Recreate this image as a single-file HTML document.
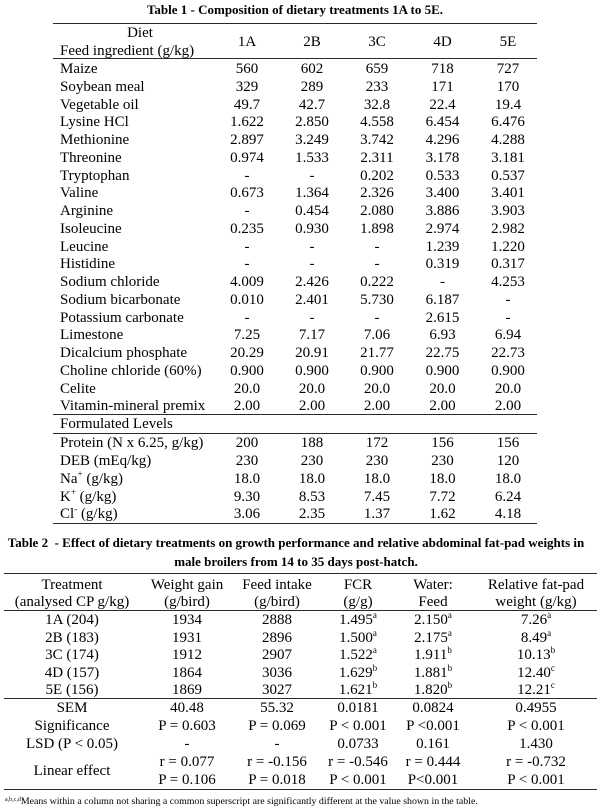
<!DOCTYPE html>
<html><head><meta charset="utf-8">
<style>
html,body{margin:0;padding:0;background:#fff;}
body{width:600px;height:805px;position:relative;overflow:hidden;font-family:"Liberation Serif",serif;color:#000;}
.c,.l{position:absolute;white-space:nowrap;font-size:15px;line-height:16px;}
.c{transform:translateX(-50%);}
.t{position:absolute;white-space:nowrap;font-size:13px;line-height:14px;font-weight:bold;transform:translateX(-50%);}
.r{position:absolute;height:1.4px;background:#2a2a2a;}
sup{font-size:9px;line-height:0;vertical-align:6px;}
.fn{position:absolute;white-space:nowrap;font-size:9.9px;line-height:11px;}
</style></head><body>

<!-- TABLE 1 -->
<div class="t" style="left:295px;top:3px">Table 1 - Composition of dietary treatments 1A to 5E.</div>
<div class="r" style="left:53px;width:484px;top:22.5px"></div>
<div class="c" style="left:140px;top:25px">Diet</div>
<div class="l" style="left:60px;top:43px">Feed ingredient (g/kg)</div>
<div class="c" style="left:247px;top:34px">1A</div>
<div class="c" style="left:312px;top:34px">2B</div>
<div class="c" style="left:377px;top:34px">3C</div>
<div class="c" style="left:442.5px;top:34px">4D</div>
<div class="c" style="left:508px;top:34px">5E</div>
<div class="r" style="left:53px;width:484px;top:58px"></div>

<div class="l" style="left:60px;top:61px">Maize</div>
<div class="c" style="left:247px;top:61px">560</div><div class="c" style="left:312px;top:61px">602</div><div class="c" style="left:377px;top:61px">659</div><div class="c" style="left:442.5px;top:61px">718</div><div class="c" style="left:508px;top:61px">727</div>

<div class="l" style="left:60px;top:78.75px">Soybean meal</div>
<div class="c" style="left:247px;top:78.75px">329</div><div class="c" style="left:312px;top:78.75px">289</div><div class="c" style="left:377px;top:78.75px">233</div><div class="c" style="left:442.5px;top:78.75px">171</div><div class="c" style="left:508px;top:78.75px">170</div>

<div class="l" style="left:60px;top:96.5px">Vegetable oil</div>
<div class="c" style="left:247px;top:96.5px">49.7</div><div class="c" style="left:312px;top:96.5px">42.7</div><div class="c" style="left:377px;top:96.5px">32.8</div><div class="c" style="left:442.5px;top:96.5px">22.4</div><div class="c" style="left:508px;top:96.5px">19.4</div>

<div class="l" style="left:60px;top:114.25px">Lysine HCl</div>
<div class="c" style="left:247px;top:114.25px">1.622</div><div class="c" style="left:312px;top:114.25px">2.850</div><div class="c" style="left:377px;top:114.25px">4.558</div><div class="c" style="left:442.5px;top:114.25px">6.454</div><div class="c" style="left:508px;top:114.25px">6.476</div>

<div class="l" style="left:60px;top:132px">Methionine</div>
<div class="c" style="left:247px;top:132px">2.897</div><div class="c" style="left:312px;top:132px">3.249</div><div class="c" style="left:377px;top:132px">3.742</div><div class="c" style="left:442.5px;top:132px">4.296</div><div class="c" style="left:508px;top:132px">4.288</div>

<div class="l" style="left:60px;top:149.75px">Threonine</div>
<div class="c" style="left:247px;top:149.75px">0.974</div><div class="c" style="left:312px;top:149.75px">1.533</div><div class="c" style="left:377px;top:149.75px">2.311</div><div class="c" style="left:442.5px;top:149.75px">3.178</div><div class="c" style="left:508px;top:149.75px">3.181</div>

<div class="l" style="left:60px;top:167.5px">Tryptophan</div>
<div class="c" style="left:247px;top:167.5px">-</div><div class="c" style="left:312px;top:167.5px">-</div><div class="c" style="left:377px;top:167.5px">0.202</div><div class="c" style="left:442.5px;top:167.5px">0.533</div><div class="c" style="left:508px;top:167.5px">0.537</div>

<div class="l" style="left:60px;top:185.25px">Valine</div>
<div class="c" style="left:247px;top:185.25px">0.673</div><div class="c" style="left:312px;top:185.25px">1.364</div><div class="c" style="left:377px;top:185.25px">2.326</div><div class="c" style="left:442.5px;top:185.25px">3.400</div><div class="c" style="left:508px;top:185.25px">3.401</div>

<div class="l" style="left:60px;top:203px">Arginine</div>
<div class="c" style="left:247px;top:203px">-</div><div class="c" style="left:312px;top:203px">0.454</div><div class="c" style="left:377px;top:203px">2.080</div><div class="c" style="left:442.5px;top:203px">3.886</div><div class="c" style="left:508px;top:203px">3.903</div>

<div class="l" style="left:60px;top:220.75px">Isoleucine</div>
<div class="c" style="left:247px;top:220.75px">0.235</div><div class="c" style="left:312px;top:220.75px">0.930</div><div class="c" style="left:377px;top:220.75px">1.898</div><div class="c" style="left:442.5px;top:220.75px">2.974</div><div class="c" style="left:508px;top:220.75px">2.982</div>

<div class="l" style="left:60px;top:238.5px">Leucine</div>
<div class="c" style="left:247px;top:238.5px">-</div><div class="c" style="left:312px;top:238.5px">-</div><div class="c" style="left:377px;top:238.5px">-</div><div class="c" style="left:442.5px;top:238.5px">1.239</div><div class="c" style="left:508px;top:238.5px">1.220</div>

<div class="l" style="left:60px;top:256.25px">Histidine</div>
<div class="c" style="left:247px;top:256.25px">-</div><div class="c" style="left:312px;top:256.25px">-</div><div class="c" style="left:377px;top:256.25px">-</div><div class="c" style="left:442.5px;top:256.25px">0.319</div><div class="c" style="left:508px;top:256.25px">0.317</div>

<div class="l" style="left:60px;top:274px">Sodium chloride</div>
<div class="c" style="left:247px;top:274px">4.009</div><div class="c" style="left:312px;top:274px">2.426</div><div class="c" style="left:377px;top:274px">0.222</div><div class="c" style="left:442.5px;top:274px">-</div><div class="c" style="left:508px;top:274px">4.253</div>

<div class="l" style="left:60px;top:291.75px">Sodium bicarbonate</div>
<div class="c" style="left:247px;top:291.75px">0.010</div><div class="c" style="left:312px;top:291.75px">2.401</div><div class="c" style="left:377px;top:291.75px">5.730</div><div class="c" style="left:442.5px;top:291.75px">6.187</div><div class="c" style="left:508px;top:291.75px">-</div>

<div class="l" style="left:60px;top:309.5px">Potassium carbonate</div>
<div class="c" style="left:247px;top:309.5px">-</div><div class="c" style="left:312px;top:309.5px">-</div><div class="c" style="left:377px;top:309.5px">-</div><div class="c" style="left:442.5px;top:309.5px">2.615</div><div class="c" style="left:508px;top:309.5px">-</div>

<div class="l" style="left:60px;top:327.25px">Limestone</div>
<div class="c" style="left:247px;top:327.25px">7.25</div><div class="c" style="left:312px;top:327.25px">7.17</div><div class="c" style="left:377px;top:327.25px">7.06</div><div class="c" style="left:442.5px;top:327.25px">6.93</div><div class="c" style="left:508px;top:327.25px">6.94</div>

<div class="l" style="left:60px;top:345px">Dicalcium phosphate</div>
<div class="c" style="left:247px;top:345px">20.29</div><div class="c" style="left:312px;top:345px">20.91</div><div class="c" style="left:377px;top:345px">21.77</div><div class="c" style="left:442.5px;top:345px">22.75</div><div class="c" style="left:508px;top:345px">22.73</div>

<div class="l" style="left:60px;top:362.75px">Choline chloride (60%)</div>
<div class="c" style="left:247px;top:362.75px">0.900</div><div class="c" style="left:312px;top:362.75px">0.900</div><div class="c" style="left:377px;top:362.75px">0.900</div><div class="c" style="left:442.5px;top:362.75px">0.900</div><div class="c" style="left:508px;top:362.75px">0.900</div>

<div class="l" style="left:60px;top:380.5px">Celite</div>
<div class="c" style="left:247px;top:380.5px">20.0</div><div class="c" style="left:312px;top:380.5px">20.0</div><div class="c" style="left:377px;top:380.5px">20.0</div><div class="c" style="left:442.5px;top:380.5px">20.0</div><div class="c" style="left:508px;top:380.5px">20.0</div>

<div class="l" style="left:60px;top:398.25px">Vitamin-mineral premix</div>
<div class="c" style="left:247px;top:398.25px">2.00</div><div class="c" style="left:312px;top:398.25px">2.00</div><div class="c" style="left:377px;top:398.25px">2.00</div><div class="c" style="left:442.5px;top:398.25px">2.00</div><div class="c" style="left:508px;top:398.25px">2.00</div>

<div class="r" style="left:53px;width:484px;top:414px"></div>
<div class="l" style="left:60px;top:416px">Formulated Levels</div>
<div class="r" style="left:53px;width:484px;top:433px"></div>

<div class="l" style="left:60px;top:435px">Protein (N x 6.25, g/kg)</div>
<div class="c" style="left:247px;top:435px">200</div><div class="c" style="left:312px;top:435px">188</div><div class="c" style="left:377px;top:435px">172</div><div class="c" style="left:442.5px;top:435px">156</div><div class="c" style="left:508px;top:435px">156</div>

<div class="l" style="left:60px;top:453px">DEB (mEq/kg)</div>
<div class="c" style="left:247px;top:453px">230</div><div class="c" style="left:312px;top:453px">230</div><div class="c" style="left:377px;top:453px">230</div><div class="c" style="left:442.5px;top:453px">230</div><div class="c" style="left:508px;top:453px">120</div>

<div class="l" style="left:60px;top:471px">Na<sup>+</sup> (g/kg)</div>
<div class="c" style="left:247px;top:471px">18.0</div><div class="c" style="left:312px;top:471px">18.0</div><div class="c" style="left:377px;top:471px">18.0</div><div class="c" style="left:442.5px;top:471px">18.0</div><div class="c" style="left:508px;top:471px">18.0</div>

<div class="l" style="left:60px;top:488.5px">K<sup>+</sup> (g/kg)</div>
<div class="c" style="left:247px;top:488.5px">9.30</div><div class="c" style="left:312px;top:488.5px">8.53</div><div class="c" style="left:377px;top:488.5px">7.45</div><div class="c" style="left:442.5px;top:488.5px">7.72</div><div class="c" style="left:508px;top:488.5px">6.24</div>

<div class="l" style="left:60px;top:506px">Cl<sup>-</sup> (g/kg)</div>
<div class="c" style="left:247px;top:506px">3.06</div><div class="c" style="left:312px;top:506px">2.35</div><div class="c" style="left:377px;top:506px">1.37</div><div class="c" style="left:442.5px;top:506px">1.62</div><div class="c" style="left:508px;top:506px">4.18</div>

<div class="r" style="left:53px;width:484px;top:523px"></div>

<!-- TABLE 2 -->
<div class="t" style="left:296px;top:536px">Table 2 &nbsp;- Effect of dietary treatments on growth performance and relative abdominal fat-pad weights in</div>
<div class="t" style="left:296px;top:555px">male broilers from 14 to 35 days post-hatch.</div>
<div class="r" style="left:4px;width:593px;top:573px"></div>

<div class="c" style="left:72px;top:577px">Treatment</div>
<div class="c" style="left:72px;top:594px">(analysed CP g/kg)</div>
<div class="c" style="left:187px;top:577px">Weight gain</div>
<div class="c" style="left:187px;top:594px">(g/bird)</div>
<div class="c" style="left:277px;top:577px">Feed intake</div>
<div class="c" style="left:277px;top:594px">(g/bird)</div>
<div class="c" style="left:358px;top:577px">FCR</div>
<div class="c" style="left:358px;top:594px">(g/g)</div>
<div class="c" style="left:433px;top:577px">Water:</div>
<div class="c" style="left:433px;top:594px">Feed</div>
<div class="c" style="left:536px;top:577px">Relative fat-pad</div>
<div class="c" style="left:536px;top:594px">weight (g/kg)</div>
<div class="r" style="left:4px;width:593px;top:610px"></div>

<div class="c" style="left:72px;top:612px">1A (204)</div><div class="c" style="left:187px;top:612px">1934</div><div class="c" style="left:277px;top:612px">2888</div><div class="c" style="left:358px;top:612px">1.495<sup>a</sup></div><div class="c" style="left:433px;top:612px">2.150<sup>a</sup></div><div class="c" style="left:536px;top:612px">7.26<sup>a</sup></div>

<div class="c" style="left:72px;top:629.5px">2B (183)</div><div class="c" style="left:187px;top:629.5px">1931</div><div class="c" style="left:277px;top:629.5px">2896</div><div class="c" style="left:358px;top:629.5px">1.500<sup>a</sup></div><div class="c" style="left:433px;top:629.5px">2.175<sup>a</sup></div><div class="c" style="left:536px;top:629.5px">8.49<sup>a</sup></div>

<div class="c" style="left:72px;top:647px">3C (174)</div><div class="c" style="left:187px;top:647px">1912</div><div class="c" style="left:277px;top:647px">2907</div><div class="c" style="left:358px;top:647px">1.522<sup>a</sup></div><div class="c" style="left:433px;top:647px">1.911<sup>b</sup></div><div class="c" style="left:536px;top:647px">10.13<sup>b</sup></div>

<div class="c" style="left:72px;top:664.5px">4D (157)</div><div class="c" style="left:187px;top:664.5px">1864</div><div class="c" style="left:277px;top:664.5px">3036</div><div class="c" style="left:358px;top:664.5px">1.629<sup>b</sup></div><div class="c" style="left:433px;top:664.5px">1.881<sup>b</sup></div><div class="c" style="left:536px;top:664.5px">12.40<sup>c</sup></div>

<div class="c" style="left:72px;top:682px">5E (156)</div><div class="c" style="left:187px;top:682px">1869</div><div class="c" style="left:277px;top:682px">3027</div><div class="c" style="left:358px;top:682px">1.621<sup>b</sup></div><div class="c" style="left:433px;top:682px">1.820<sup>b</sup></div><div class="c" style="left:536px;top:682px">12.21<sup>c</sup></div>

<div class="r" style="left:4px;width:593px;top:698px"></div>

<div class="c" style="left:72px;top:700px">SEM</div><div class="c" style="left:187px;top:700px">40.48</div><div class="c" style="left:277px;top:700px">55.32</div><div class="c" style="left:358px;top:700px">0.0181</div><div class="c" style="left:433px;top:700px">0.0824</div><div class="c" style="left:536px;top:700px">0.4955</div>

<div class="c" style="left:72px;top:718px">Significance</div><div class="c" style="left:187px;top:718px">P = 0.603</div><div class="c" style="left:277px;top:718px">P = 0.069</div><div class="c" style="left:358px;top:718px">P &lt; 0.001</div><div class="c" style="left:433px;top:718px">P &lt;0.001</div><div class="c" style="left:536px;top:718px">P &lt; 0.001</div>

<div class="c" style="left:72px;top:736px">LSD (P &lt; 0.05)</div><div class="c" style="left:187px;top:736px">-</div><div class="c" style="left:277px;top:736px">-</div><div class="c" style="left:358px;top:736px">0.0733</div><div class="c" style="left:433px;top:736px">0.161</div><div class="c" style="left:536px;top:736px">1.430</div>

<div class="c" style="left:72px;top:763px">Linear effect</div>
<div class="c" style="left:187px;top:754px">r = 0.077</div><div class="c" style="left:277px;top:754px">r = -0.156</div><div class="c" style="left:358px;top:754px">r = -0.546</div><div class="c" style="left:433px;top:754px">r = 0.444</div><div class="c" style="left:536px;top:754px">r = -0.732</div>
<div class="c" style="left:187px;top:772px">P = 0.106</div><div class="c" style="left:277px;top:772px">P = 0.018</div><div class="c" style="left:358px;top:772px">P &lt; 0.001</div><div class="c" style="left:433px;top:772px">P&lt;0.001</div><div class="c" style="left:536px;top:772px">P &lt; 0.001</div>

<div class="r" style="left:4px;width:593px;top:789px"></div>

<div class="fn" style="left:5px;top:795px"><span style="font-size:6px;vertical-align:3px">a,b,c,d</span>Means within a column not sharing a common superscript are significantly different at the value shown in the table.</div>

</body></html>
